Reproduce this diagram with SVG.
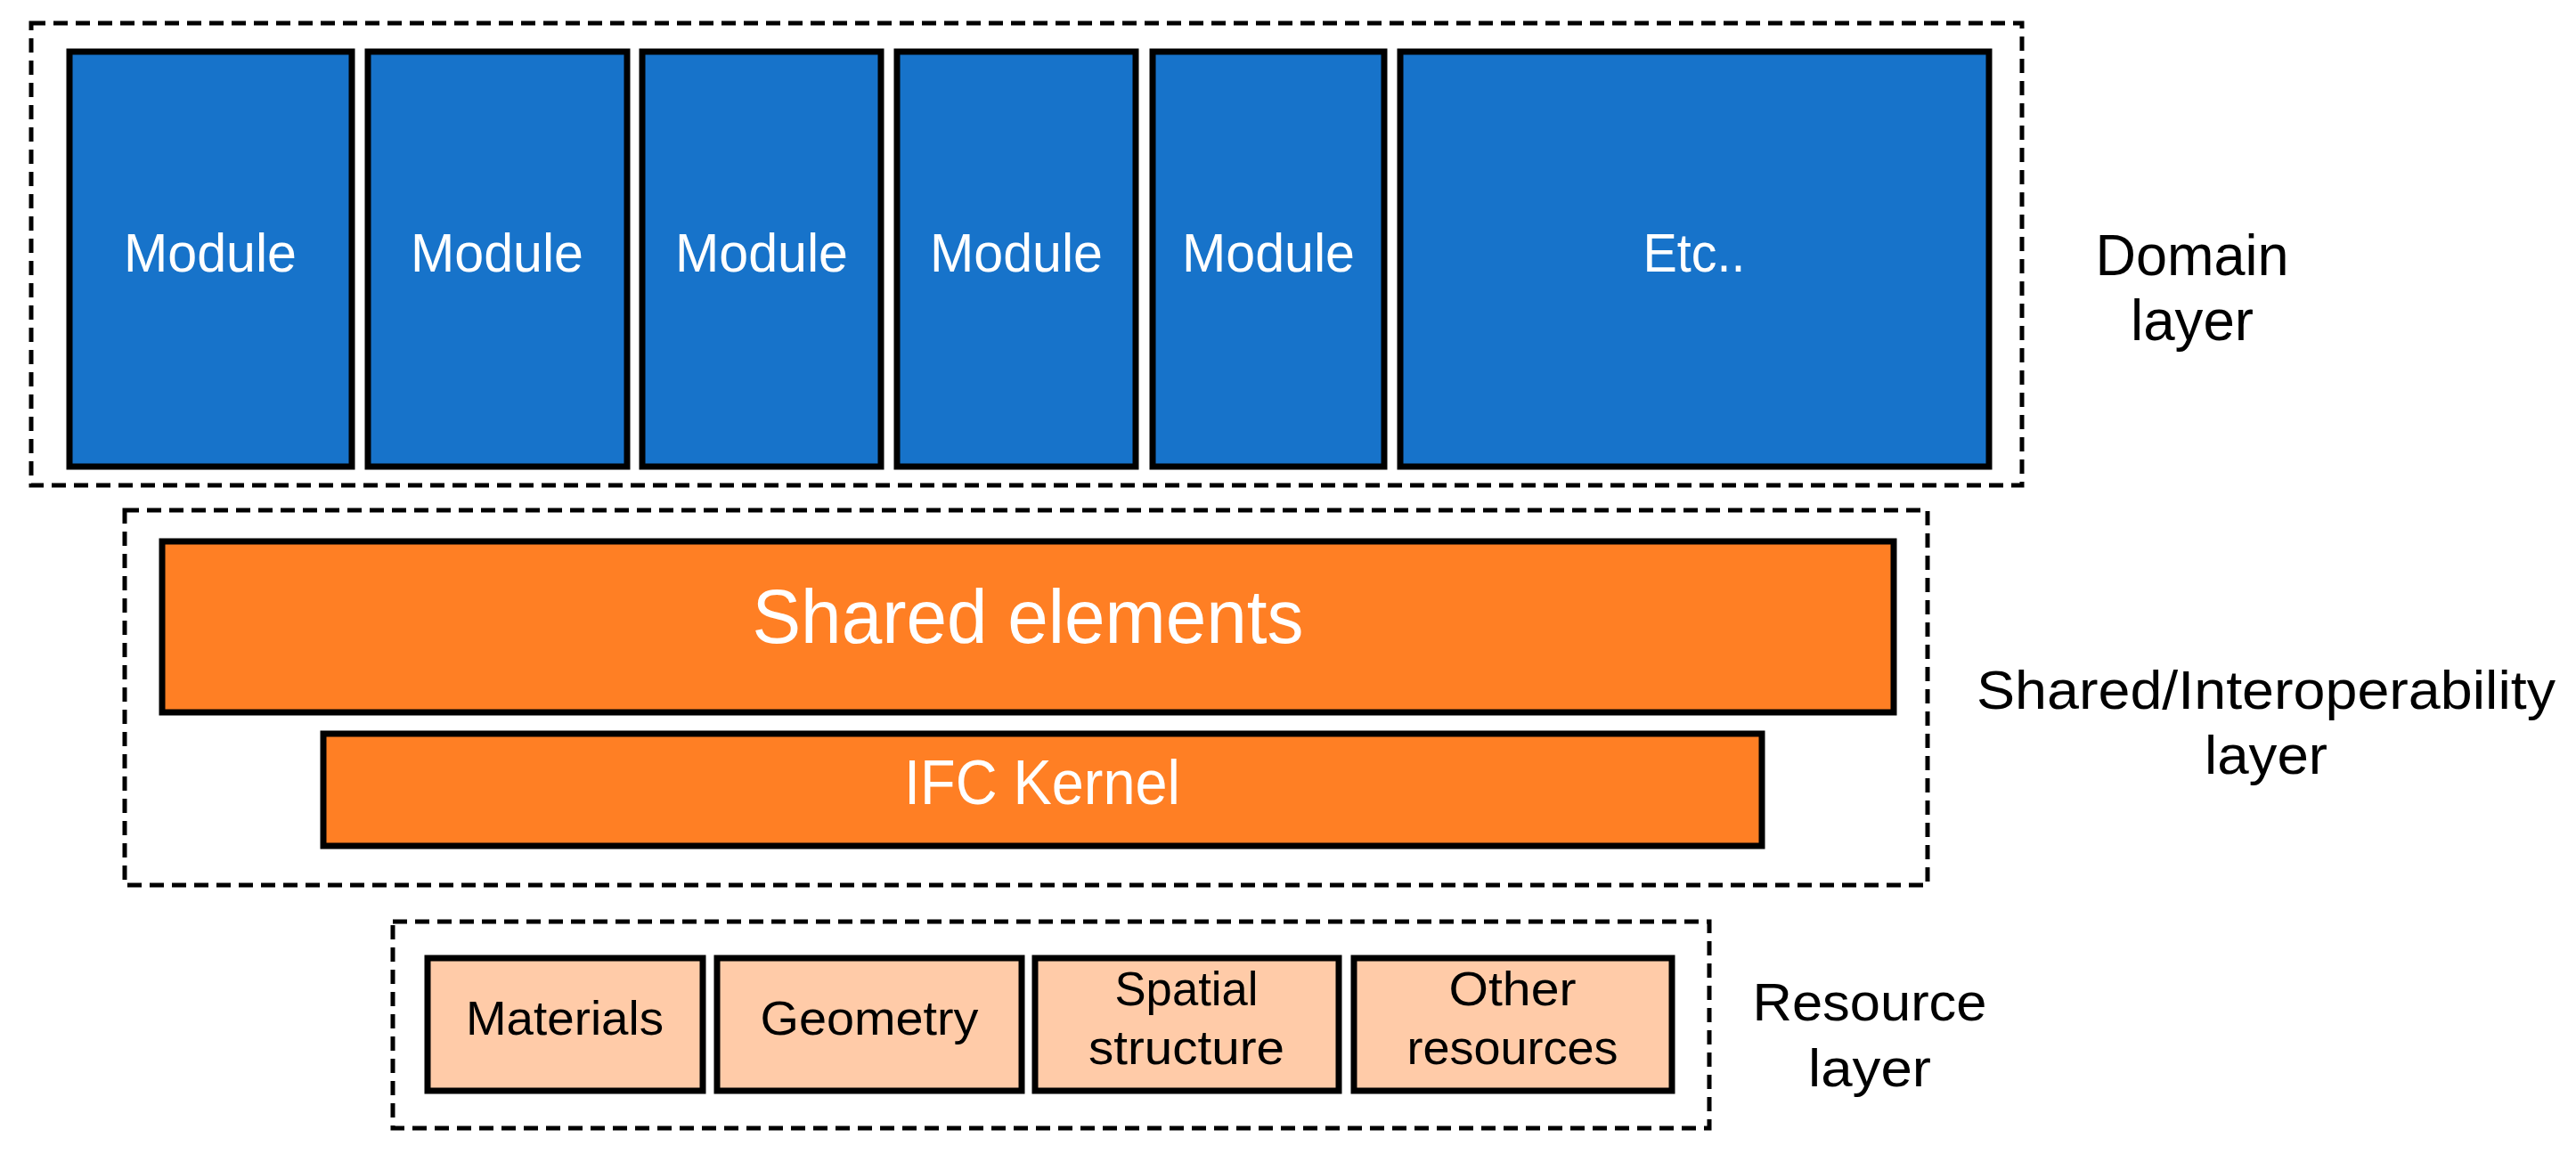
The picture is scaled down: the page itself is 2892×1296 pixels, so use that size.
<svg xmlns="http://www.w3.org/2000/svg" width="2892" height="1296" viewBox="0 0 2892 1296">
<style>
.dash{fill:none;stroke:#000;stroke-width:5;stroke-dasharray:16 9}
.blue{fill:#1773CA;stroke:#000;stroke-width:7}
.orange{fill:#FF7F24;stroke:#000;stroke-width:7}
.peach{fill:#FFCBA8;stroke:#000;stroke-width:7}
text{font-family:"Liberation Sans",Arial,sans-serif;text-anchor:middle}
.w{fill:#fff}
.k{fill:#000}
</style>
<rect fill="#fff" width="2892" height="1296"/>
<g id="domain-layer">
<rect class="dash" x="35" y="26" width="2235" height="519"/>
<text class="k" x="2461" y="309" font-size="64" lengthAdjust="spacingAndGlyphs" textLength="217">Domain</text>
<text class="k" x="2461" y="382" font-size="64" lengthAdjust="spacingAndGlyphs" textLength="138">layer</text>
</g>
<g id="module1"><rect class="blue" x="78" y="58" width="317" height="466"/><text class="w" x="236" y="305" font-size="62" lengthAdjust="spacingAndGlyphs" textLength="194">Module</text></g>
<g id="module2"><rect class="blue" x="413" y="58" width="291" height="466"/><text class="w" x="558" y="305" font-size="62" lengthAdjust="spacingAndGlyphs" textLength="194">Module</text></g>
<g id="module3"><rect class="blue" x="721" y="58" width="268" height="466"/><text class="w" x="855" y="305" font-size="62" lengthAdjust="spacingAndGlyphs" textLength="194">Module</text></g>
<g id="module4"><rect class="blue" x="1007" y="58" width="268" height="466"/><text class="w" x="1141" y="305" font-size="62" lengthAdjust="spacingAndGlyphs" textLength="194">Module</text></g>
<g id="module5"><rect class="blue" x="1294" y="58" width="260" height="466"/><text class="w" x="1424" y="305" font-size="62" lengthAdjust="spacingAndGlyphs" textLength="194">Module</text></g>
<g id="etc"><rect class="blue" x="1572" y="58" width="661" height="466"/><text class="w" x="1902" y="305" font-size="62" lengthAdjust="spacingAndGlyphs" textLength="115">Etc..</text></g>
<g id="shared-layer">
<rect class="dash" x="140" y="573" width="2024" height="421"/>
<text class="k" x="2544" y="796" font-size="62" lengthAdjust="spacingAndGlyphs" textLength="650">Shared/Interoperability</text>
<text class="k" x="2544" y="869" font-size="62" lengthAdjust="spacingAndGlyphs" textLength="138">layer</text>
</g>
<g id="shared-elements"><rect class="orange" x="182" y="608" width="1944" height="192"/><text class="w" x="1154" y="722" font-size="86" lengthAdjust="spacingAndGlyphs" textLength="619">Shared elements</text></g>
<g id="ifc-kernel"><rect class="orange" x="363" y="824" width="1615" height="126"/><text class="w" x="1170" y="903" font-size="70" lengthAdjust="spacingAndGlyphs" textLength="310">IFC Kernel</text></g>
<g id="resource-layer">
<rect class="dash" x="441" y="1035" width="1478" height="232"/>
<text class="k" x="2099" y="1146" font-size="60" lengthAdjust="spacingAndGlyphs" textLength="263">Resource</text>
<text class="k" x="2099" y="1220" font-size="60" lengthAdjust="spacingAndGlyphs" textLength="138">layer</text>
</g>
<g id="materials"><rect class="peach" x="480" y="1076" width="309" height="149"/><text class="k" x="634" y="1162" font-size="54" lengthAdjust="spacingAndGlyphs" textLength="222">Materials</text></g>
<g id="geometry"><rect class="peach" x="805" y="1076" width="342" height="149"/><text class="k" x="976" y="1162" font-size="54" lengthAdjust="spacingAndGlyphs" textLength="245">Geometry</text></g>
<g id="spatial"><rect class="peach" x="1162" y="1076" width="341" height="149"/><text class="k" x="1332" y="1129" font-size="54" lengthAdjust="spacingAndGlyphs" textLength="161">Spatial</text><text class="k" x="1332" y="1195" font-size="54" lengthAdjust="spacingAndGlyphs" textLength="220">structure</text></g>
<g id="other"><rect class="peach" x="1520" y="1076" width="357" height="149"/><text class="k" x="1698" y="1129" font-size="54" lengthAdjust="spacingAndGlyphs" textLength="143">Other</text><text class="k" x="1698" y="1195" font-size="54" lengthAdjust="spacingAndGlyphs" textLength="237">resources</text></g>
<g id="connectors"/>
</svg>
